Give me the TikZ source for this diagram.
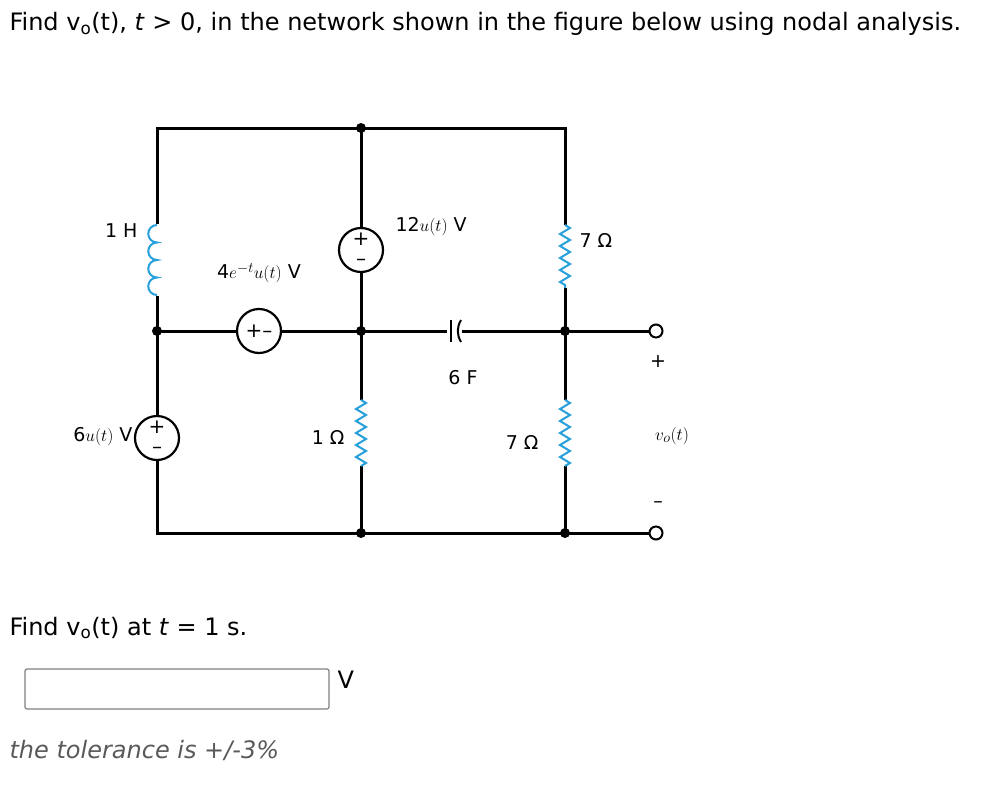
\documentclass[tikz,border=0pt]{standalone}
\usepackage{fontspec}
\setmainfont{DejaVu Sans}
\usetikzlibrary{decorations.pathmorphing}
\definecolor{wireblue}{RGB}{40,160,220}
\tikzset{
  wire/.style={line width=3pt},
  res/.style={wireblue,line width=2pt,decorate,decoration={zigzag,amplitude=5pt,segment length=12pt}},
  src/.style={circle,draw,line width=2.2pt,minimum size=44pt,inner sep=0pt,fill=white},
  dot/.style={circle,fill,inner sep=0pt,minimum size=10pt},
  term/.style={circle,draw,line width=2pt,fill=white,inner sep=0pt,minimum size=13pt},
  lbl/.style={font=\fontsize{19}{22}\selectfont}
}
\begin{document}
\begin{tikzpicture}[x=1pt,y=-1pt]
\useasboundingbox (0,0) rectangle (990,784);
% junctions
\coordinate (tl) at (157,128); \node[dot] (tm) at (361,128) {}; \coordinate (tr) at (565,128);
\node[dot] (ml) at (157,331) {}; \node[dot] (mm) at (361,331) {}; \node[dot] (mr) at (565,331) {};
\coordinate (bl) at (157,533); \node[dot] (bm) at (361,533) {}; \node[dot] (br) at (565,533) {};
\node[term] (ta) at (656,331) {}; \node[term] (tb) at (656,533) {};
% wires
\draw[wire] (ml.center) -- (tl) -- (tm.center) -- (tr) -- (mr.center);
\draw[wire] (ml.center) -- (bl) -- (bm.center) -- (br.center) -- (tb);
\draw[wire] (tm.center) -- (bm.center);
\draw[wire] (mr.center) -- (br.center);
\draw[wire] (ml.center) -- (ta);
% inductor
\fill[white] (148,224) rectangle (166,296);
\draw[wireblue,line width=2pt] (157,225) \foreach \k in {1,...,4} {arc (270:90:8.75)};
% resistors
\foreach \x/\ya/\yb in {565/225/288, 361/400/466, 565/400/466} {
  \fill[white] (\x-7,\ya) rectangle (\x+7,\yb);
  \draw[res] (\x,\ya) -- (\x,\yb);
}
% capacitor
\fill[white] (447,318) rectangle (462,344);
\draw[line width=2pt] (451,320) -- (451,342);
\draw[line width=2pt] (461,320) to[bend right=30] (461,342);
% sources
\node[src] (s12) at (361,250) {};
\node at (361,239) {\fontsize{20}{20}\selectfont +};
\node at (361,262) {\fontsize{20}{20}\selectfont --};
\node[src] (s4) at (259,331) {\fontsize{20}{20}\selectfont +--};
\node[src] (s6) at (157,438) {};
\node at (157,427) {\fontsize{20}{20}\selectfont +};
\node at (157,450) {\fontsize{20}{20}\selectfont --};
% labels
\node[lbl,anchor=east] at (141,231) {1 H};
\node[lbl,anchor=west] at (392,227) {12$u(t)$ V};
\node[lbl,anchor=west] at (576,240) {7 Ω};
\node[lbl] at (259,273) {4$e^{-t}u(t)$ V};
\node[lbl] at (463,378) {6 F};
\node[lbl,anchor=east] at (136,437) {6$u(t)$ V};
\node[lbl,anchor=east] at (348,437) {1 Ω};
\node[lbl,anchor=east] at (542,442) {7 Ω};
\node[lbl] at (658,362) {+};
\node[lbl] at (672,436) {$v_o(t)$};
\node[lbl] at (658,505) {--};
% question text
\node[anchor=west,font=\fontsize{24}{28}\selectfont] at (6,24) {Find v\textsubscript{o}(t), \textit{t} > 0, in the network shown in the figure below using nodal analysis.};
\node[anchor=west,font=\fontsize{24}{28}\selectfont] at (6,628) {Find v\textsubscript{o}(t) at \textit{t} = 1 s.};
\draw[gray,rounded corners=2pt,line width=1.2pt] (25,669) rectangle (329,709);
\node[anchor=west,font=\fontsize{24}{28}\selectfont] at (334,680) {V};
\node[anchor=west,gray!70!black,font=\fontsize{24}{28}\selectfont\itshape] at (6,750) {the tolerance is +/-3\%};
\end{tikzpicture}
\end{document}
